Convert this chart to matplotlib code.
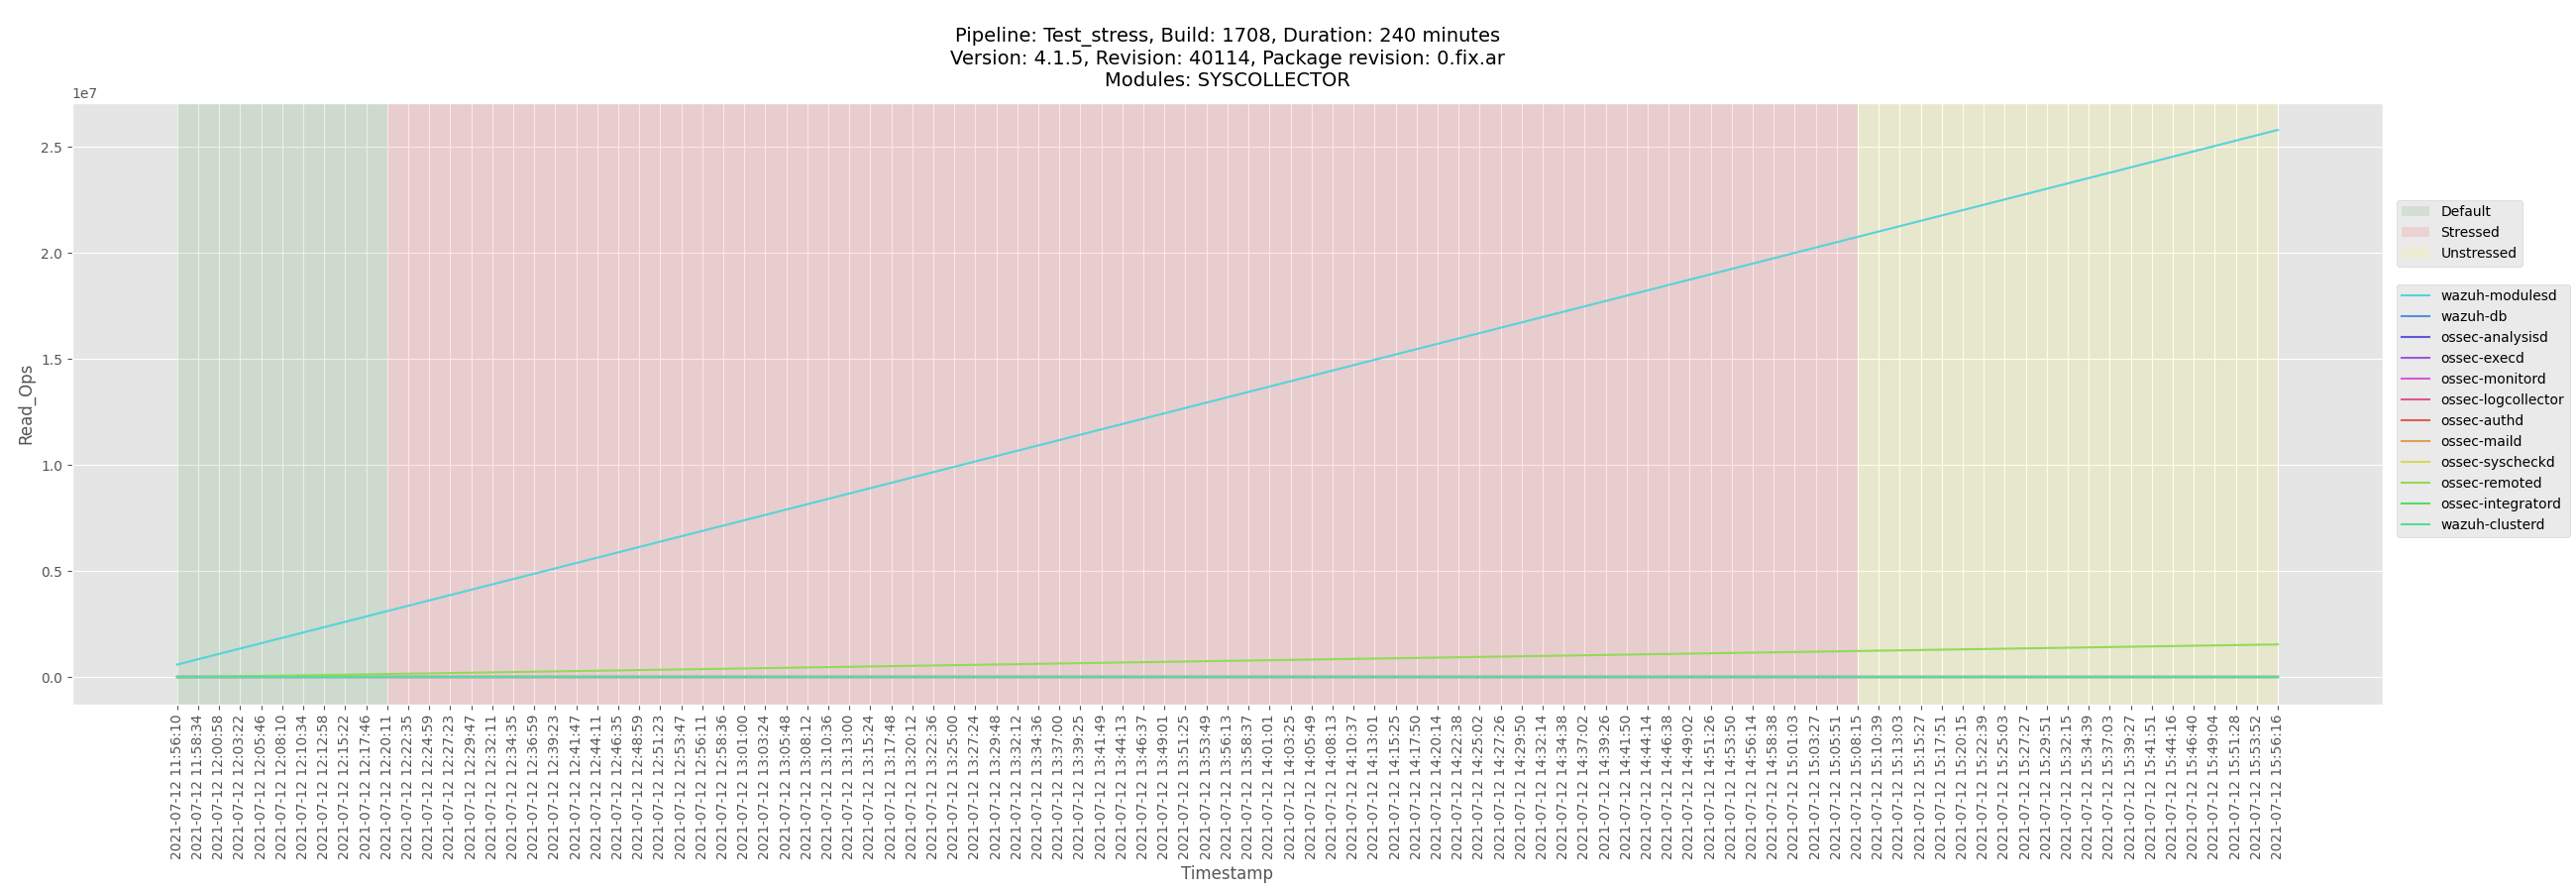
import matplotlib
matplotlib.use("Agg")
import matplotlib.pyplot as plt
import seaborn as sns
import numpy as np

# tick timestamps (all on 2021-07-12)
times = [
    "11:56:10", "11:58:34", "12:00:58", "12:03:22", "12:05:46", "12:08:10", "12:10:34", "12:12:58",
    "12:15:22", "12:17:46", "12:20:11", "12:22:35", "12:24:59", "12:27:23", "12:29:47", "12:32:11",
    "12:34:35", "12:36:59", "12:39:23", "12:41:47", "12:44:11", "12:46:35", "12:48:59", "12:51:23",
    "12:53:47", "12:56:11", "12:58:36", "13:01:00", "13:03:24", "13:05:48", "13:08:12", "13:10:36",
    "13:13:00", "13:15:24", "13:17:48", "13:20:12", "13:22:36", "13:25:00", "13:27:24", "13:29:48",
    "13:32:12", "13:34:36", "13:37:00", "13:39:25", "13:41:49", "13:44:13", "13:46:37", "13:49:01",
    "13:51:25", "13:53:49", "13:56:13", "13:58:37", "14:01:01", "14:03:25", "14:05:49", "14:08:13",
    "14:10:37", "14:13:01", "14:15:25", "14:17:50", "14:20:14", "14:22:38", "14:25:02", "14:27:26",
    "14:29:50", "14:32:14", "14:34:38", "14:37:02", "14:39:26", "14:41:50", "14:44:14", "14:46:38",
    "14:49:02", "14:51:26", "14:53:50", "14:56:14", "14:58:38", "15:01:03", "15:03:27", "15:05:51",
    "15:08:15", "15:10:39", "15:13:03", "15:15:27", "15:17:51", "15:20:15", "15:22:39", "15:25:03",
    "15:27:27", "15:29:51", "15:32:15", "15:34:39", "15:37:03", "15:39:27", "15:41:51", "15:44:16",
    "15:46:40", "15:49:04", "15:51:28", "15:53:52", "15:56:16",
]
labels = ["2021-07-12 " + t for t in times]

# read ops in thousands
modulesd_k = [
    600, 852, 1104, 1356, 1608, 1860, 2112, 2364, 2616, 2868, 3120, 3372, 3624, 3876, 4128, 4380,
    4632, 4884, 5136, 5388, 5640, 5892, 6144, 6396, 6648, 6900, 7152, 7404, 7656, 7908, 8160, 8412,
    8664, 8916, 9168, 9420, 9672, 9924, 10176, 10428, 10680, 10932, 11184, 11436, 11688, 11940, 12192,
    12444, 12696, 12948, 13200, 13452, 13704, 13956, 14208, 14460, 14712, 14964, 15216, 15468, 15720,
    15972, 16224, 16476, 16728, 16980, 17232, 17484, 17736, 17988, 18240, 18492, 18744, 18996, 19248,
    19500, 19752, 20004, 20256, 20508, 20760, 21012, 21264, 21516, 21768, 22020, 22272, 22524, 22776,
    23028, 23280, 23532, 23784, 24036, 24288, 24540, 24792, 25044, 25296, 25548, 25800,
]
remoted_k = [
    0, 16, 31, 47, 62, 78, 93, 109, 124, 140, 155, 171, 186, 202, 217, 233, 248, 264, 279, 295, 310,
    326, 341, 357, 372, 388, 403, 419, 434, 450, 465, 481, 496, 512, 527, 543, 558, 574, 589, 605, 620,
    636, 651, 667, 682, 698, 713, 729, 744, 760, 775, 791, 806, 822, 837, 853, 868, 884, 899, 915, 930,
    946, 961, 977, 992, 1008, 1023, 1039, 1054, 1070, 1085, 1101, 1116, 1132, 1147, 1163, 1178, 1194,
    1209, 1225, 1240, 1256, 1271, 1287, 1302, 1318, 1333, 1349, 1364, 1380, 1395, 1411, 1426, 1442,
    1457, 1473, 1488, 1504, 1519, 1535, 1550,
]
# near-constant small daemons (thousands)
small_k = {
    "wazuh-db": 20, "ossec-analysisd": 5, "ossec-execd": 1, "ossec-monitord": 2,
    "ossec-logcollector": 3, "ossec-authd": 1, "ossec-maild": 0, "ossec-syscheckd": 10,
    "ossec-integratord": 0, "wazuh-clusterd": 1,
}
daemons = ["wazuh-modulesd", "wazuh-db", "ossec-analysisd", "ossec-execd", "ossec-monitord",
           "ossec-logcollector", "ossec-authd", "ossec-maild", "ossec-syscheckd", "ossec-remoted",
           "ossec-integratord", "wazuh-clusterd"]
phases = [("Default", 0, 10, "green"), ("Stressed", 10, 80, "red"), ("Unstressed", 80, 100, "yellow")]

plt.style.use("ggplot")
fig, ax = plt.subplots(figsize=(26, 9), dpi=100)
n = len(labels)
x = np.arange(n)

pal = sns.color_palette("hls", 12)
pal = pal[6:] + pal[:6]

span_handles = []
for name, a, b, c in phases:
    span_handles.append(ax.axvspan(a, b, color=c, alpha=0.1, label=name, lw=0))

line_handles = []
for d, col in zip(daemons, pal):
    if d == "wazuh-modulesd":
        vals = np.array(modulesd_k[:n]) * 1000
    elif d == "ossec-remoted":
        vals = np.array(remoted_k[:n]) * 1000
    else:
        vals = np.full(n, small_k[d] * 1000)
    h, = ax.plot(x[:len(vals)], vals, color=col, lw=1.5, label=d)
    line_handles.append(h)

ax.set_xticks(x)
ax.set_xticklabels(labels, rotation=90, fontsize=10)
ax.set_xlabel("Timestamp", fontsize=12)
ax.set_ylabel("Read_Ops", fontsize=12)
ax.tick_params(axis="y", labelsize=10)
ax.set_title("Pipeline: Test_stress, Build: 1708, Duration: 240 minutes\n"
             "Version: 4.1.5, Revision: 40114, Package revision: 0.fix.ar\n"
             "Modules: SYSCOLLECTOR", fontsize=14, pad=12)

leg1 = ax.legend(handles=span_handles, loc="upper left", bbox_to_anchor=(1.003, 0.85), fontsize=10)
ax.add_artist(leg1)
ax.legend(handles=line_handles, loc="upper left", bbox_to_anchor=(1.003, 0.71), fontsize=10)

plt.subplots_adjust(left=0.028, right=0.925, top=0.885, bottom=0.21)
fig.savefig("out.png")
